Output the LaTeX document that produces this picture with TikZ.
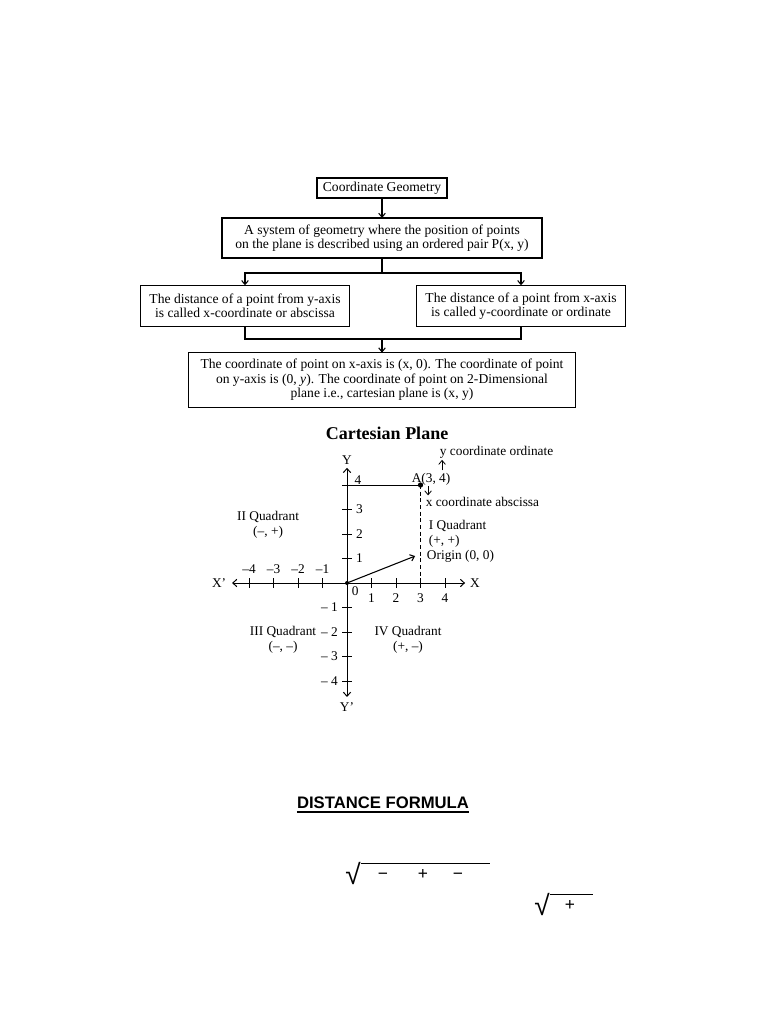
\documentclass[tikz,border=0pt]{standalone}
\usepackage{fontspec}
\setmainfont{Liberation Serif}
\newfontfamily\headfont{Liberation Sans}
\usetikzlibrary{arrows.meta}

\begin{document}
\begin{tikzpicture}[x=0.75pt,y=-0.75pt,
	box/.style={draw, line width=0.8pt, inner sep=0pt, outer sep=0pt, align=center, font=\fontsize{10.2}{10.8}\selectfont},
	arr/.style={-{Straight Barb[length=3pt,width=5pt]}, line width=0.8pt},
	lbl/.style={font=\fontsize{10}{11.5}\selectfont, inner sep=1pt},
	sym/.style={font=\headfont\fontsize{13}{15}\selectfont, inner sep=0pt, anchor=base}]
	\useasboundingbox (0,0) rectangle (768,1024);
	% flow chart
	\node[box, minimum width=97.5pt, minimum height=15pt] (cg) at (382,188) {Coordinate Geometry};
	\node[box, minimum width=240pt, minimum height=30pt] (sys) at (382,238) {A system of geometry where the position of points\\on the plane is described using an ordered pair P(x, y)};
	\node[box, minimum width=157pt, minimum height=31pt] (lbox) at (245,306) {The distance of a point from y-axis\\is called x-coordinate or abscissa};
	\node[box, minimum width=157pt, minimum height=31pt] (rbox) at (521,306) {The distance of a point from x-axis\\is called y-coordinate or ordinate};
	\node[box, line width=1.2pt, minimum width=290pt, minimum height=41pt] (res) at (382,380) {The coordinate of point on x-axis is (x, 0). The coordinate of point\\on y-axis is (0, \textit{y}). The coordinate of point on 2-Dimensional\\plane i.e., cartesian plane is (x, y)};
	\coordinate (split) at (382,273);
	\coordinate (join) at (382,339);
	\draw[arr] (cg) -- (sys);
	\draw[line width=0.8pt] (sys) -- (split);
	\draw[arr] (split) -| (lbox);
	\draw[arr] (split) -| (rbox);
	\draw[line width=0.8pt] (lbox) |- (join);
	\draw[line width=0.8pt] (rbox) |- (join);
	\draw[arr] (join) -- (res);

	% cartesian plane
	\node[font=\bfseries\fontsize{13.5}{15}\selectfont] (cp) at (387,433) {Cartesian Plane};
	\begin{scope}[shift={(347,583)}, x=18.375pt, y=18.375pt, line width=0.75pt]
		\coordinate (O) at (0,0);
		\coordinate (xl) at (-4.69,0);
		\coordinate (xr) at (4.82,0);
		\coordinate (yt) at (0,4.7);
		\coordinate (yb) at (0,-4.65);
		\coordinate (A) at (3,4);
		\coordinate (A0) at (3,0);
		\coordinate (y4) at (-0.2,4);
		\draw[{Straight Barb[length=3pt,width=5.5pt]}-{Straight Barb[length=3pt,width=5.5pt]}] (xl) -- (xr);
		\draw[{Straight Barb[length=3pt,width=5.5pt]}-{Straight Barb[length=3pt,width=5.5pt]}] (yb) -- (yt);
		\foreach \i in {1,...,4}{
			\draw (\i,-0.2) -- (\i,0.2);
			\draw (-\i,-0.2) -- (-\i,0.2);
			\draw (-0.2,\i) -- (0.2,\i);
			\draw (-0.2,-\i) -- (0.2,-\i);
			\node[lbl] (xp\i) at (\i,-0.61) {\i};
			\node[lbl] (xn\i) at (-\i,0.57) {--\i};
			\node[lbl, anchor=east] (yn\i) at (-0.3,-\i) {-- \i};
		}
		\foreach \i in {1,2,3}
			\node[lbl, anchor=west] (yp\i) at (0.3,\i) {\i};
		\node[lbl] (yp4) at (0.45,4.2) {4};
		\node[lbl] (zero) at (0.33,-0.33) {0};
		\node[lbl] (X) at (5.22,0) {X};
		\node[lbl] (Xp) at (-5.22,0) {X'};
		\node[lbl] (Y) at (0,5.02) {Y};
		\node[lbl] (Yp) at (0,-5.06) {Y'};
		\draw (y4) -- (A);
		\draw[dash pattern=on 3pt off 2pt] (A) -- (A0);
		\fill (O) circle (1.5pt);
		\fill (A) circle (2pt);
		\node[lbl] (Alab) at (3.43,4.24) {A(3, 4)};
		\node[lbl, anchor=west] (ylbl) at (3.72,5.35) {y coordinate ordinate};
		\node[lbl, anchor=west] (xlbl) at (3.14,3.31) {x coordinate abscissa};
		\coordinate (yup) at (3.88,4.6);
		\coordinate (xdn) at (3.31,3.95);
		\draw[arr, line width=0.6pt] (yup) -- (yup |- ylbl.south);
		\draw[arr, line width=0.6pt] (xdn) -- (xdn |- xlbl.north);
		\node[lbl, anchor=west, align=left] (q1) at (3.27,2.02) {I Quadrant\\(+, +)};
		\node[lbl, anchor=west] (orig) at (3.19,1.1) {Origin (0, 0)};
		\coordinate (otip) at (2.78,1.1);
		\draw[arr] (O) -- (otip);
		\node[lbl, align=center] (q2) at (-3.22,2.37) {II Quadrant\\(--, +)};
		\node[lbl, align=center] (q3) at (-2.61,-2.33) {III Quadrant\\(--, --)};
		\node[lbl, align=center] (q4) at (2.49,-2.33) {IV Quadrant\\(+, --)};
	\end{scope}

	% distance formula
	\node[font=\headfont\bfseries\fontsize{12.5}{15}\selectfont, inner sep=0pt] (dft) at (383,803) {DISTANCE FORMULA};
	\draw[line width=1.1pt] ([yshift=-2pt]dft.south west) -- ([yshift=-2pt]dft.south east);
	\node[sym, font=\headfont\fontsize{21}{24}\selectfont] (sq1) at (353,884) {√};
	\node[sym] (m1) at (383,879) {−};
	\node[sym] (p1) at (423,879) {+};
	\node[sym] (m2) at (458,879) {−};
	\coordinate (ov1) at (490,863);
	\draw[line width=0.75pt] (sq1.north east |- ov1) -- (ov1);
	\node[sym, font=\headfont\fontsize{21}{24}\selectfont] (sq2) at (542,915) {√};
	\node[sym] (p2) at (570,910) {+};
	\coordinate (ov2) at (593,894);
	\draw[line width=0.75pt] (sq2.north east |- ov2) -- (ov2);
\end{tikzpicture}
\end{document}
